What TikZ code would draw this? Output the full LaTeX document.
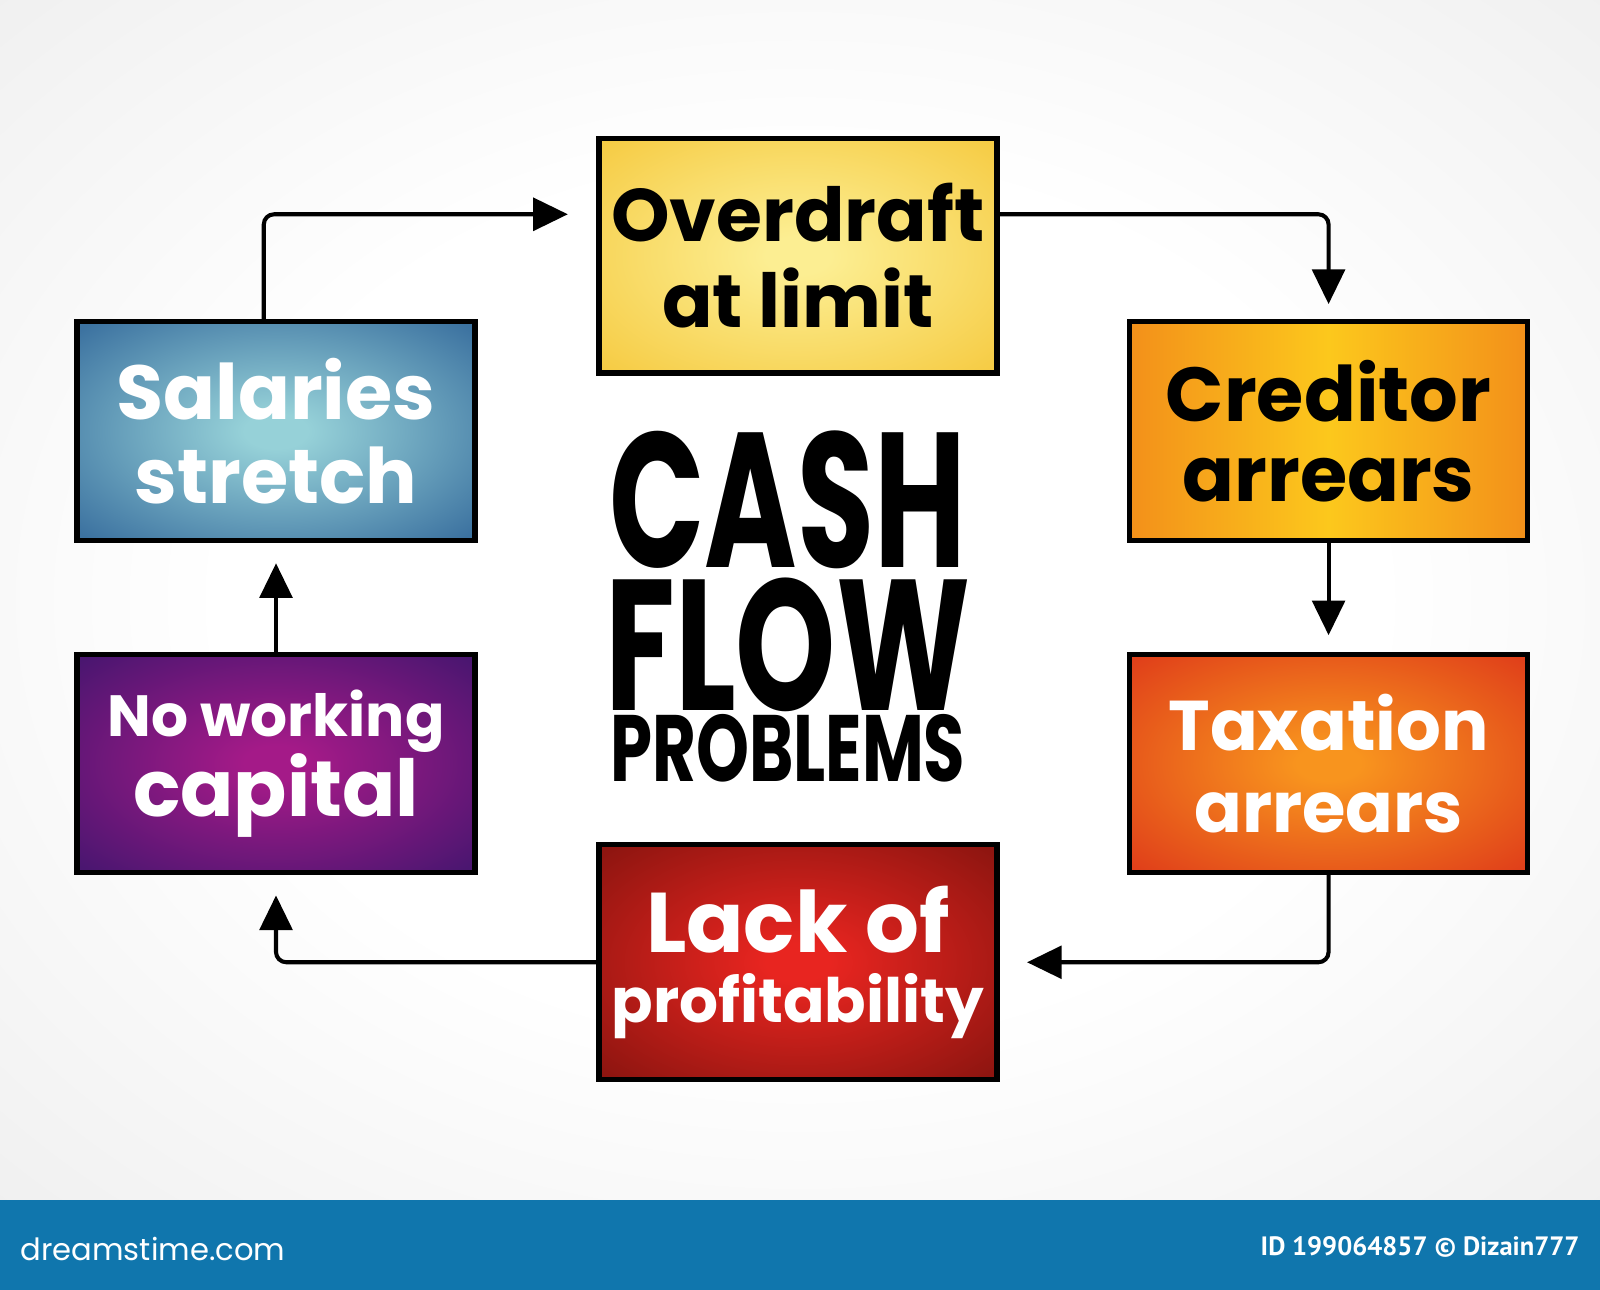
\documentclass[tikz,border=0pt]{standalone}
\usepackage{fontspec}
\usepackage{graphicx}
\setmainfont{Poppins}
\newfontfamily\barfont{PT Sans}
\usetikzlibrary{arrows.meta}

\definecolor{bgEdge}{HTML}{E4E4E4}
\definecolor{barBlue}{HTML}{1076AD}
\definecolor{salIn}{HTML}{96D1D8}
\definecolor{salOut}{HTML}{3C72A0}
\definecolor{ovdIn}{HTML}{FCEE92}
\definecolor{ovdOut}{HTML}{F6CC45}
\definecolor{credSide}{HTML}{F3901A}
\definecolor{credMid}{HTML}{FCC81C}
\definecolor{taxIn}{HTML}{F8941E}
\definecolor{taxOut}{HTML}{E0401A}
\definecolor{nwcIn}{HTML}{A41A88}
\definecolor{nwcOut}{HTML}{4A1670}
\definecolor{lackIn}{HTML}{E82520}
\definecolor{lackOut}{HTML}{8E1510}

\colorlet{boxin}{white}
\colorlet{boxout}{black}
\pgfdeclareradialshading[boxin,boxout]{boxglow}{\pgfpoint{0bp}{0bp}}{color(0bp)=(boxin); color(4bp)=(boxin); color(34bp)=(boxout); color(50bp)=(boxout)}
\pgfdeclareradialshading{bgglow}{\pgfpoint{0bp}{0bp}}{color(0bp)=(white); color(18bp)=(white); color(50bp)=(bgEdge)}

\tikzset{
  box/.style={draw=black, line width=5pt, minimum width=390pt, minimum height=214pt, inner sep=0pt, align=center},
  midbox/.style={box, minimum height=230pt},
  glow/.style 2 args={/utils/exec={\colorlet{boxin}{#1}\colorlet{boxout}{#2}}, shade, shading=boxglow},
  conn/.style={draw=black, line width=4pt, rounded corners=10pt, line cap=round, -{Triangle[length=34pt,width=32pt]}},
}

\begin{document}
\begin{tikzpicture}[x=1pt, y=-1pt]
\useasboundingbox (0,0) rectangle (1568,1264);
\shade[shading=bgglow] (0,0) rectangle (1568,1176);
\fill[barBlue] (0,1176) rectangle (1568,1264);

% boxes
\node[midbox, glow={ovdIn}{ovdOut}, text=black, font=\bfseries\fontsize{73pt}{84pt}\selectfont] (ovd) at (782,250.5) {Overdraft\\at limit};
\node[box, glow={salIn}{salOut}, text=white, font=\bfseries\fontsize{75pt}{82pt}\selectfont] (sal) at (270.5,422.5) {Salaries\\stretch};
\node[box, left color=credSide, right color=credSide, middle color=credMid, text=black, font=\bfseries\fontsize{75pt}{78pt}\selectfont] (cred) at (1302,422.5) {Creditor\\arrears};
\node[box, glow={taxIn}{taxOut}, text=white, font=\bfseries\fontsize{69pt}{80pt}\selectfont] (tax) at (1302,748) {Taxation\\arrears};
\node[box, glow={nwcIn}{nwcOut}, text=white, font=\bfseries\fontsize{77pt}{72pt}\selectfont] (nwc) at (270.5,748) {{\fontsize{57pt}{62pt}\selectfont No working}\\capital};
\node[midbox, glow={lackIn}{lackOut}, text=white, font=\bfseries\fontsize{60pt}{68pt}\selectfont] (lack) at (782,943) {{\fontsize{83pt}{88pt}\selectfont Lack of}\\profitability};

% title
\node[text=black, inner sep=0pt, align=center, font=\bfseries\fontsize{123pt}{0pt}\selectfont] (title) at (772,594.5)
  {\scalebox{1}[1.53]{CASH}\\[8pt]
   {\fontsize{125pt}{0pt}\selectfont\scalebox{1}[1.46]{FLOW}}\\[2pt]
   {\fontsize{66pt}{0pt}\selectfont\scalebox{1}[1.4]{PROBLEMS}}};

% connectors
\draw[conn, shorten >=28pt] ([xshift=-12pt]sal.north) |- ([yshift=40.5pt]ovd.west);
\draw[conn, shorten >=15pt] ([yshift=40.5pt]ovd.east) -| (cred.north);
\draw[conn, shorten >=16pt] (cred.south) -- (tax.north);
\draw[conn, shorten >=27pt] (tax.south) |- (lack.east);
\draw[conn, shorten >=20pt] (lack.west) -| (nwc.south);
\draw[conn, shorten >=20pt] (nwc.north) -- (sal.south);

% footer
\node[anchor=west, text=white, inner sep=0pt, font=\fontsize{30pt}{34pt}\selectfont] (logo) at (20,1224) {dreamstime.com};
\node[anchor=east, text=white, inner sep=0pt, font=\barfont\bfseries\fontsize{26pt}{30pt}\selectfont] (credit) at (1548,1222) {ID 199064857 © Dizain777};
\end{tikzpicture}
\end{document}
